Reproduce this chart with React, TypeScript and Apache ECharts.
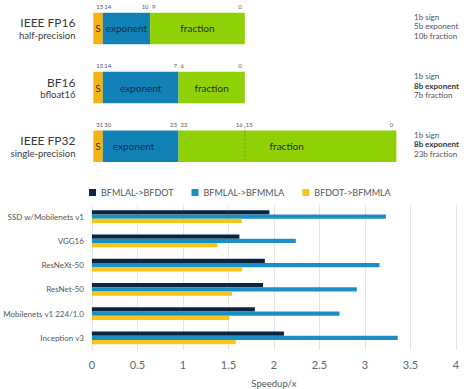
import React, { useEffect, useRef } from "react";
import * as echarts from "echarts";

const categories = [
  "SSD w/Mobilenets v1",
  "VGG16",
  "ResNeXt-50",
  "ResNet-50",
  "Mobilenets v1 224/1.0",
  "Inception v3",
];
const seriesNames = ["BFMLAL->BFDOT", "BFMLAL->BFMMLA", "BFDOT->BFMMLA"];
const bfmlalToBfdot = [1.95, 1.62, 1.9, 1.88, 1.79, 2.11];
const bfmlalToBfmmla = [3.23, 2.24, 3.16, 2.91, 2.72, 3.36];
const bfdotToBfmmla = [1.645, 1.38, 1.65, 1.54, 1.51, 1.58];
const xTicks = [0, 0.5, 1, 1.5, 2, 2.5, 3, 3.5, 4];

const formats = [
  { title: "IEEE FP16", sub: "half-precision", sign: 1, exp: 5, frac: 10, notes: ["1b sign", "5b exponent", "10b fraction"], bold: -1 },
  { title: "BF16", sub: "bfloat16", sign: 1, exp: 8, frac: 7, notes: ["1b sign", "8b exponent", "7b fraction"], bold: 1 },
  { title: "IEEE FP32", sub: "single-precision", sign: 1, exp: 8, frac: 23, notes: ["1b sign", "8b exponent", "23b fraction"], bold: 1 },
];

const FONT = "Lato, 'Open Sans', sans-serif";
const C_S = "#f6b412";
const C_E = "#1281b6";
const C_F = "#8fd104";
const C_DARK = "#0d2440";
const C_BLUE = "#1a8fc3";
const C_YEL = "#f6c517";

function buildDiagram() {
  const els: any[] = [];
  const x0 = 93.3;
  const bitW = 9.47;
  const boxH = 31.5;
  const rowTops = [12.7, 71.8, 130.5];
  formats.forEach((f, i) => {
    const top = rowTops[i];
    const total = f.sign + f.exp + f.frac;
    const xs = x0 + f.sign * bitW;
    const xe = xs + f.exp * bitW;
    const xf = x0 + total * bitW;
    els.push({ type: "rect", shape: { x: x0, y: top, width: xs - x0, height: boxH }, style: { fill: C_S } });
    els.push({ type: "rect", shape: { x: xs, y: top, width: xe - xs, height: boxH }, style: { fill: C_E } });
    els.push({ type: "rect", shape: { x: xe, y: top, width: xf - xe, height: boxH }, style: { fill: C_F } });
    const mid = top + boxH / 2;
    els.push({ type: "text", style: { text: "S", x: (x0 + xs) / 2, y: mid, align: "center", verticalAlign: "middle", font: `10px ${FONT}`, fill: "#4a3000" } });
    els.push({ type: "text", style: { text: "exponent", x: (xs + xe) / 2 + (i === 2 ? -7 : 0), y: mid, align: "center", verticalAlign: "middle", font: `10px ${FONT}`, fill: "#0d2f50" } });
    const fracMid = i === 2 ? 286.7 : (xe + xf) / 2;
    els.push({ type: "text", style: { text: "fraction", x: fracMid, y: mid, align: "center", verticalAlign: "middle", font: `10px ${FONT}`, fill: "#1f3305" } });
    const ly = top - 6.5;
    const hi = total - 1;
    const labels: [string, number, string][] = [
      [String(hi), x0 + 3, "left"],
      [String(hi - 1), xs + 1.5, "left"],
      [String(hi - f.exp), xe - 1.5, "right"],
      [String(hi - f.exp - 1), xe + 2, "left"],
      ["0", xf - 3, "right"],
    ];
    if (i === 2) {
      const xd = x0 + 16 * bitW;
      labels.push(["16", xd - 2, "right"]);
      labels.push(["15", xd + 1, "left"]);
      els.push({ type: "line", shape: { x1: xd, y1: top - 4, x2: xd, y2: top + boxH }, style: { stroke: "#6a8a30", lineWidth: 0.8, lineDash: [2, 2] } });
    }
    labels.forEach(([t, x, a]) => {
      els.push({ type: "text", style: { text: t, x, y: ly, align: a, verticalAlign: "middle", font: `6px ${FONT}`, fill: "#555" } });
    });
    els.push({ type: "text", style: { text: f.title, x: 75.5, y: top + 10.2, align: "right", verticalAlign: "middle", font: `12px ${FONT}`, fill: "#3a3a3a" } });
    els.push({ type: "text", style: { text: f.sub, x: 75.5, y: top + 22.6, align: "right", verticalAlign: "middle", font: `9.5px ${FONT}`, fill: "#3a3a3a" } });
    f.notes.forEach((n, k) => {
      els.push({ type: "text", style: { text: n, x: 414, y: top + 4.2 + k * 9.5, align: "left", verticalAlign: "middle", font: `${k === f.bold ? "bold " : ""}8px ${FONT}`, fill: k === f.bold ? "#333" : "#555" } });
    });
  });
  return els;
}

export default function App() {
  const ref = useRef<HTMLDivElement>(null);
  useEffect(() => {
    if (!ref.current) return;
    const chart = echarts.init(ref.current, undefined, { renderer: "svg" });
    const barStyle = { barWidth: 4.3, barGap: "0%" };
    chart.setOption({
      animation: false,
      backgroundColor: "#ffffff",
      textStyle: { fontFamily: FONT },
      legend: {
        top: 183,
        left: 84,
        itemWidth: 7,
        itemHeight: 7,
        itemGap: 18,
        icon: "rect",
        textStyle: { fontSize: 9, color: "#555", fontFamily: FONT },
        data: seriesNames,
      },
      grid: { left: 88, right: 18, top: 204.5, bottom: 34.5, containLabel: false },
      xAxis: {
        type: "value",
        min: 0,
        max: 4,
        interval: 0.5,
        name: "Speedup/x",
        nameLocation: "middle",
        nameGap: 28,
        nameTextStyle: { fontSize: 9.5, color: "#555", fontFamily: FONT },
        axisLine: { show: false },
        axisTick: { show: false },
        axisLabel: { fontSize: 11, color: "#666", margin: 9, formatter: (v: number) => (xTicks.includes(v) ? String(v) : "") },
        splitLine: { show: true, lineStyle: { color: "#e4e4e4", width: 1 } },
      },
      yAxis: {
        type: "category",
        inverse: true,
        data: categories,
        axisLine: { show: false },
        axisTick: { show: false },
        axisLabel: { fontSize: 8, color: "#555", margin: 8, fontFamily: FONT },
      },
      series: [
        { name: seriesNames[0], type: "bar", data: bfmlalToBfdot, itemStyle: { color: C_DARK }, ...barStyle },
        { name: seriesNames[1], type: "bar", data: bfmlalToBfmmla, itemStyle: { color: C_BLUE }, ...barStyle },
        { name: seriesNames[2], type: "bar", data: bfdotToBfmmla, itemStyle: { color: C_YEL }, ...barStyle },
      ],
      graphic: buildDiagram(),
    });
    return () => chart.dispose();
  }, []);
  return <div ref={ref} style={{ width: 474, height: 389, position: "absolute", left: 0, top: 0 }} />;
}
